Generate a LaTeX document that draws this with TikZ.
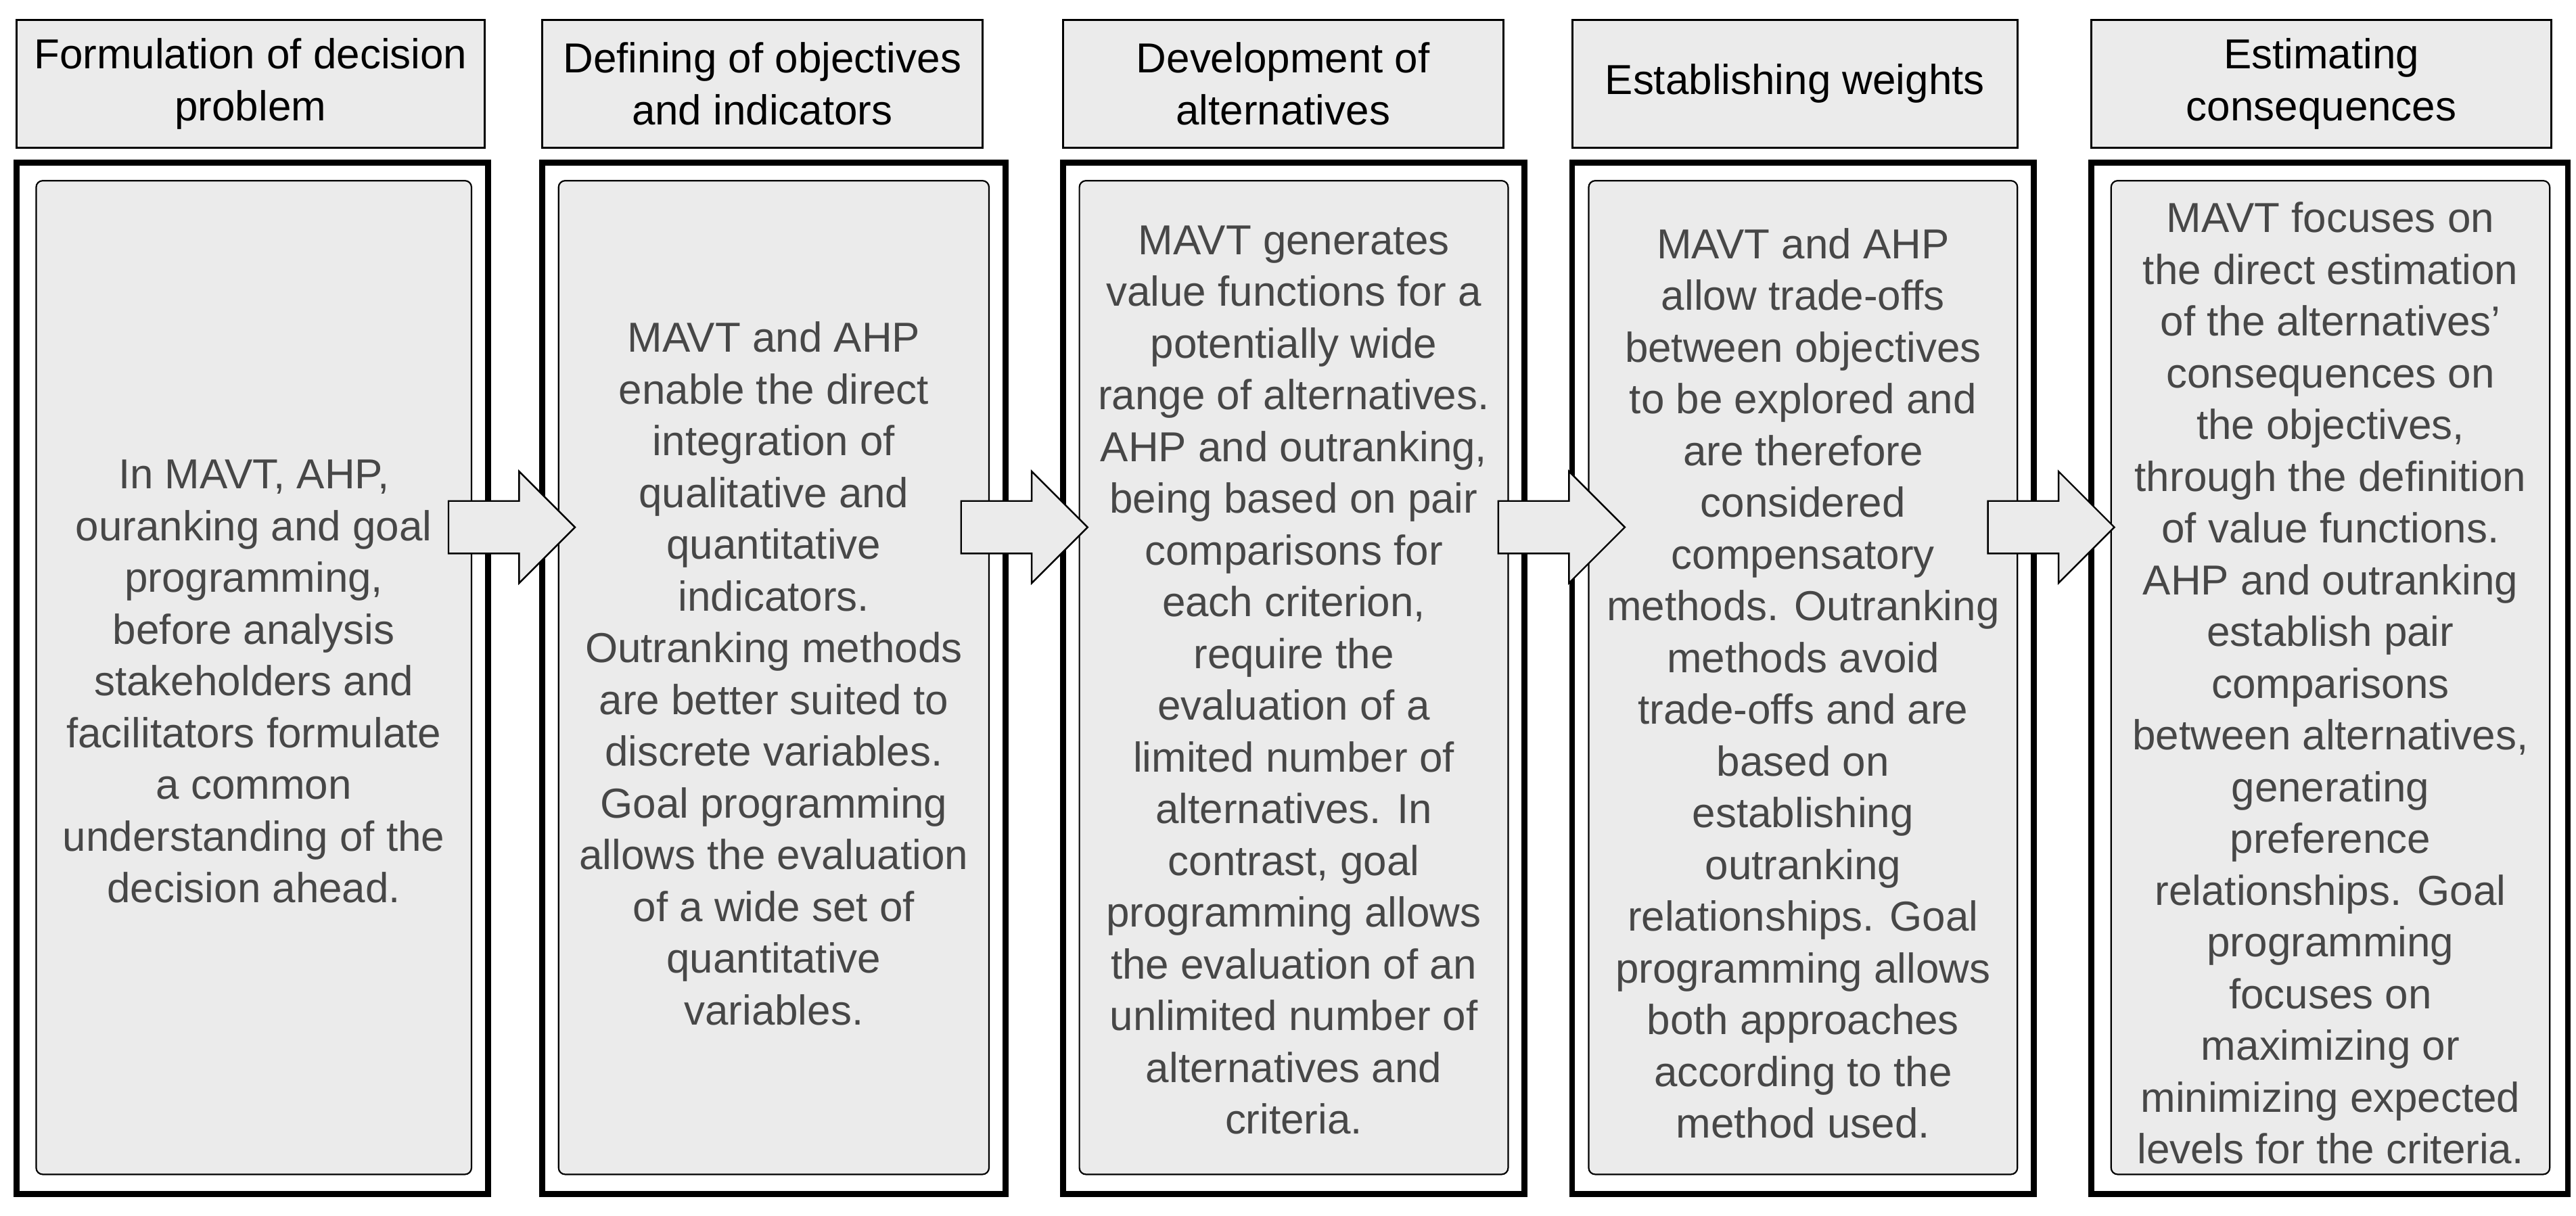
\documentclass[tikz,border=0pt]{standalone}
\usepackage{fontspec}
\setmainfont{Liberation Sans}
\definecolor{boxfill}{HTML}{EBEBEB}
\definecolor{bodytext}{HTML}{474747}
\begin{document}
\begin{tikzpicture}[x=1pt,y=-1pt,
  hdr/.style={draw=black,line width=1.3pt,fill=boxfill},
  outerbox/.style={draw=black,line width=3.5pt,fill=white},
  innerbox/.style={draw=black,line width=0.9pt,fill=boxfill,rounded corners=4pt},
  htext/.style={align=center,font=\fontsize{25.5}{31.5}\selectfont,text=black},
  btext/.style={align=center,font=\fontsize{25.5}{31.5}\selectfont,text=bodytext},
  barrow/.style={draw=black,line width=1pt,fill=boxfill}]
\useasboundingbox (0,0) rectangle (1568,740);
% column boxes
\foreach \a/\b/\c/\d/\e in {10/295/297/22/287, 330/598/612/340/602, 647/915/928/657/918, 957/1228/1238/967/1228, 1273/1553/1563/1285/1552}{
  \draw[hdr] (\a,12) rectangle (\b,90);
  \draw[outerbox] (\a,99) rectangle (\c,727);
  \draw[innerbox] (\d,110) rectangle (\e,715);
}
% headers
\node[htext] (h1) at (152.5,51) {Formulation of decision\\problem};
\node[htext] (h2) at (464,51) {Defining of objectives\\and indicators};
\node[htext] (h3) at (781,51) {Development of\\alternatives};
\node[htext] (h4) at (1092.5,51) {Establishing weights};
\node[htext] (h5) at (1413,51) {Estimating\\consequences};
% bodies
\node[btext] (b1) at (154.5,415) {In MAVT, AHP,\\ouranking and goal\\programming,\\before analysis\\stakeholders and\\facilitators formulate\\a common\\understanding of the\\decision ahead.};
\node[btext] (b2) at (471,410) {MAVT and AHP\\enable the direct\\integration of\\qualitative and\\quantitative\\indicators.\\Outranking methods\\are better suited to\\discrete variables.\\Goal programming\\allows the evaluation\\of a wide set of\\quantitative\\variables.};
\node[btext] (b3) at (787.5,414) {MAVT generates\\value functions for a\\potentially wide\\range of alternatives.\\AHP and outranking,\\being based on pair\\comparisons for\\each criterion,\\require the\\evaluation of a\\limited number of\\alternatives. In\\contrast, goal\\programming allows\\the evaluation of an\\unlimited number of\\alternatives and\\criteria.};
\node[btext] (b4) at (1097.5,416) {MAVT and AHP\\allow trade-offs\\between objectives\\to be explored and\\are therefore\\considered\\compensatory\\methods. Outranking\\methods avoid\\trade-offs and are\\based on\\establishing\\outranking\\relationships. Goal\\programming allows\\both approaches\\according to the\\method used.};
\node[btext] (b5) at (1418.5,416) {MAVT focuses on\\the direct estimation\\of the alternatives'\\consequences on\\the objectives,\\through the definition\\of value functions.\\AHP and outranking\\establish pair\\comparisons\\between alternatives,\\generating\\preference\\relationships. Goal\\programming\\focuses on\\maximizing or\\minimizing expected\\levels for the criteria.};
% block arrows
\foreach \s in {273,585,912,1210}{
  \draw[barrow] (\s,305) -- (\s+43,305) -- (\s+43,287) -- (\s+77,321) -- (\s+43,355) -- (\s+43,337) -- (\s,337) -- cycle;
}
\end{tikzpicture}
\end{document}
